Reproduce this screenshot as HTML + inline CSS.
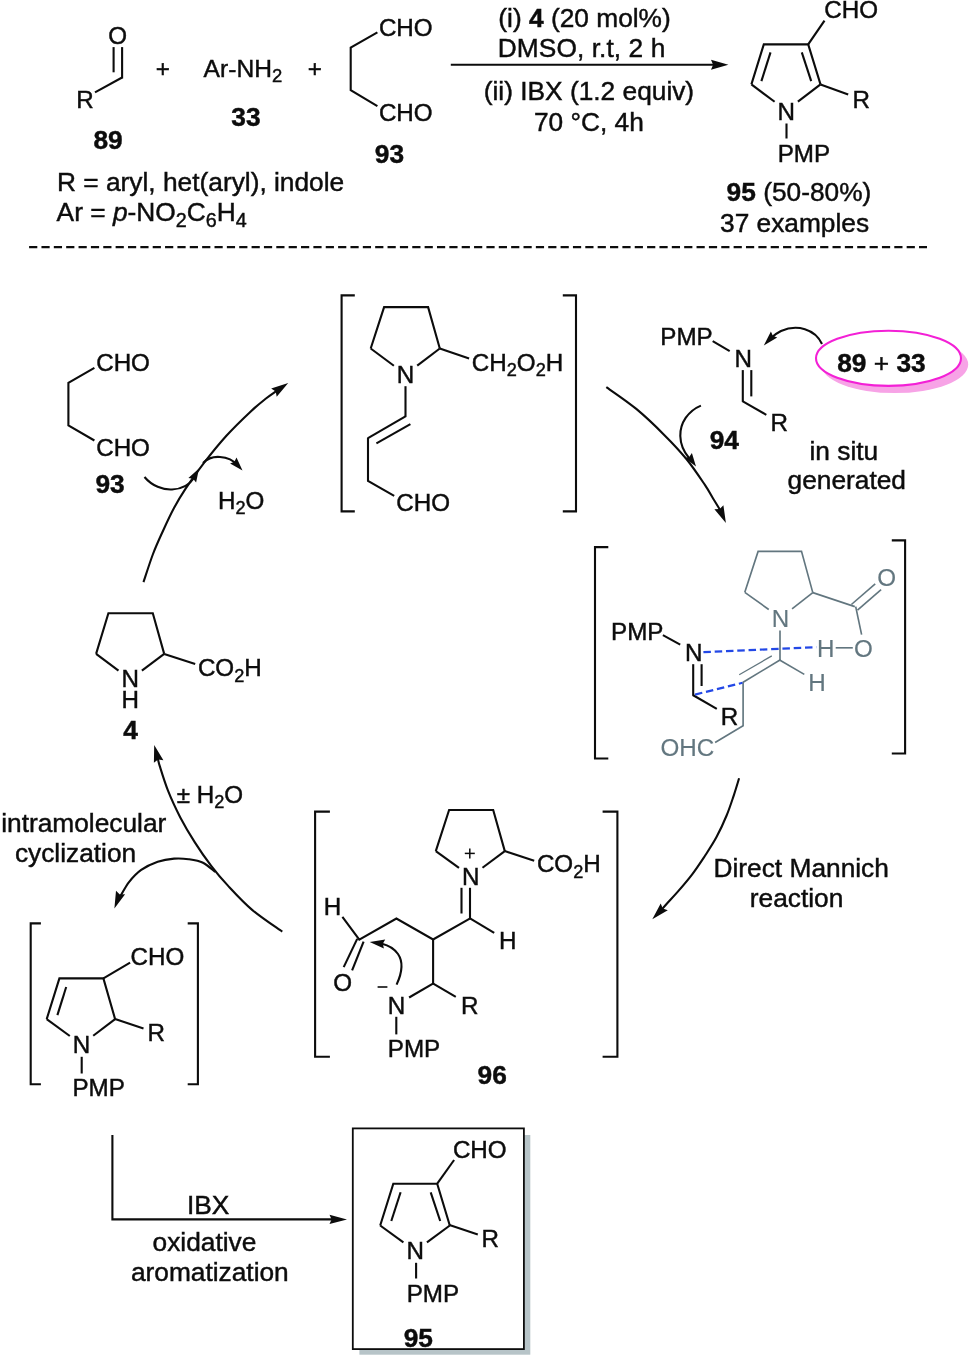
<!DOCTYPE html>
<html lang="en"><head><meta charset="utf-8"><title>Scheme</title>
<style>
html,body{margin:0;padding:0;background:#fff;}
svg{display:block;will-change:transform;filter:blur(0.4px);font-family:"Liberation Sans",sans-serif;}
text{stroke-width:0.45px;paint-order:stroke;}
</style></head><body>
<svg width="971" height="1358" viewBox="0 0 971 1358" stroke-linecap="butt">
<defs><filter id="bl" x="-10%" y="-20%" width="120%" height="140%"><feGaussianBlur stdDeviation="0.7"/></filter></defs>
<rect width="971" height="1358" fill="#ffffff"/>
<text x="76.3" y="107.90" font-size="24.2" fill="#0c0c0c" stroke="#0c0c0c" text-anchor="start" >R</text>
<line x1="95" y1="92.4" x2="122.1" y2="77.5" stroke="#0c0c0c" stroke-width="2.1" />
<line x1="122.1" y1="78.5" x2="122.1" y2="47.1" stroke="#0c0c0c" stroke-width="2.1" />
<line x1="113.6" y1="72.3" x2="113.6" y2="47.1" stroke="#0c0c0c" stroke-width="2.1" />
<text x="117.6" y="44.20" font-size="24.2" fill="#0c0c0c" stroke="#0c0c0c" text-anchor="middle" >O</text>
<text x="108.1" y="149.00" font-size="26.3" fill="#0c0c0c" stroke="#0c0c0c" text-anchor="middle" font-weight="bold" >89</text>
<text x="162.8" y="77.20" font-size="24.2" fill="#0c0c0c" stroke="#0c0c0c" text-anchor="middle" >+</text>
<text x="203.6" y="76.70" font-size="24.6" fill="#0c0c0c" stroke="#0c0c0c" text-anchor="start" >Ar-NH<tspan dy="5.41" font-size="18.45">2</tspan></text>
<text x="246" y="126.10" font-size="26.3" fill="#0c0c0c" stroke="#0c0c0c" text-anchor="middle" font-weight="bold" >33</text>
<text x="314.8" y="77.20" font-size="24.2" fill="#0c0c0c" stroke="#0c0c0c" text-anchor="middle" >+</text>
<text x="378.9" y="35.60" font-size="24.2" fill="#0c0c0c" stroke="#0c0c0c" text-anchor="start" >CHO</text>
<polyline points="377.4,32.4 350.7,47.7 350.7,90.1 377.4,106.1" fill="none" stroke="#0c0c0c" stroke-width="2.1" stroke-linejoin="miter"/>
<text x="378.9" y="120.70" font-size="24.2" fill="#0c0c0c" stroke="#0c0c0c" text-anchor="start" >CHO</text>
<text x="389.4" y="163.10" font-size="26.3" fill="#0c0c0c" stroke="#0c0c0c" text-anchor="middle" font-weight="bold" >93</text>
<text x="57" y="191.20" font-size="26.3" fill="#0c0c0c" stroke="#0c0c0c" text-anchor="start" >R = aryl, het(aryl), indole</text>
<text x="56.6" y="221.20" font-size="26.3" fill="#0c0c0c" stroke="#0c0c0c" text-anchor="start" >Ar = <tspan font-style="italic">p</tspan>-NO<tspan dy="5.79" font-size="19.73">2</tspan><tspan dy="-5.79">C</tspan><tspan dy="5.79" font-size="19.73">6</tspan><tspan dy="-5.79">H</tspan><tspan dy="5.79" font-size="19.73">4</tspan></text>
<line x1="450.8" y1="64.7" x2="716" y2="64.7" stroke="#0c0c0c" stroke-width="2.1" />
<polygon points="728.4,64.7 711.0,69.7 713.1,64.7 711.0,59.8" fill="#0c0c0c" stroke="none"/>
<text x="498.3" y="26.60" font-size="26.3" fill="#0c0c0c" stroke="#0c0c0c" text-anchor="start" >(i) <tspan font-weight="bold">4</tspan> (20 mol%)</text>
<text x="497.8" y="57.30" font-size="26.3" fill="#0c0c0c" stroke="#0c0c0c" text-anchor="start" textLength="167.5" lengthAdjust="spacing">DMSO, r.t, 2 h</text>
<text x="483.7" y="100.00" font-size="26.3" fill="#0c0c0c" stroke="#0c0c0c" text-anchor="start" >(ii) IBX (1.2 equiv)</text>
<text x="533.9" y="130.70" font-size="26.3" fill="#0c0c0c" stroke="#0c0c0c" text-anchor="start" >70 °C, 4h</text>
<polyline points="751.4,84.4 763.8,44.4 808.2,44.4 820.5,84.4" fill="none" stroke="#0c0c0c" stroke-width="2.1" stroke-linejoin="miter"/>
<line x1="751.4" y1="84.4" x2="774.6079505029965" y2="101.75608905811482" stroke="#0c0c0c" stroke-width="2.1" />
<line x1="820.5" y1="84.4" x2="797.9062881922581" y2="101.64256953748722" stroke="#0c0c0c" stroke-width="2.1" />
<line x1="770.5" y1="52.4" x2="761.4" y2="81.1" stroke="#0c0c0c" stroke-width="2.1" />
<line x1="801.8" y1="52.4" x2="811.2" y2="81.1" stroke="#0c0c0c" stroke-width="2.1" />
<line x1="808.2" y1="44.4" x2="824.5" y2="20.7" stroke="#0c0c0c" stroke-width="2.1" />
<text x="824.3" y="17.90" font-size="24.2" fill="#0c0c0c" stroke="#0c0c0c" text-anchor="start" >CHO</text>
<line x1="820.5" y1="84.4" x2="848.2" y2="94.4" stroke="#0c0c0c" stroke-width="2.1" />
<text x="852.5" y="108.00" font-size="24.2" fill="#0c0c0c" stroke="#0c0c0c" text-anchor="start" >R</text>
<text x="786.3" y="120.10" font-size="24.2" fill="#0c0c0c" stroke="#0c0c0c" text-anchor="middle" >N</text>
<line x1="786.5" y1="123.5" x2="786.5" y2="138.5" stroke="#0c0c0c" stroke-width="2.1" />
<text x="777.7" y="162.40" font-size="24.2" fill="#0c0c0c" stroke="#0c0c0c" text-anchor="start" >PMP</text>
<text x="726.6" y="200.80" font-size="26.3" fill="#0c0c0c" stroke="#0c0c0c" text-anchor="start" ><tspan font-weight="bold">95</tspan> (50-80%)</text>
<text x="720" y="231.60" font-size="26.3" fill="#0c0c0c" stroke="#0c0c0c" text-anchor="start" >37 examples</text>
<line x1="29.1" y1="247.2" x2="927" y2="247.2" stroke="#0c0c0c" stroke-width="2.2" stroke-dasharray="8.2 4.16"/>
<text x="96.2" y="370.70" font-size="24.2" fill="#0c0c0c" stroke="#0c0c0c" text-anchor="start" >CHO</text>
<polyline points="94.4,367.8 68.4,382.8 68.4,425.5 94.4,440.5" fill="none" stroke="#0c0c0c" stroke-width="2.1" stroke-linejoin="miter"/>
<text x="96.2" y="456.10" font-size="24.2" fill="#0c0c0c" stroke="#0c0c0c" text-anchor="start" >CHO</text>
<text x="110.1" y="493.30" font-size="26.3" fill="#0c0c0c" stroke="#0c0c0c" text-anchor="middle" font-weight="bold" >93</text>
<text x="218" y="508.60" font-size="24.2" fill="#0c0c0c" stroke="#0c0c0c" text-anchor="start" >H<tspan dy="5.32" font-size="18.15">2</tspan><tspan dy="-5.32">O</tspan></text>
<path d="M143.5,582.1 C145.1,577.4 149.7,562.7 153.0,554.0 C156.3,545.3 159.9,537.7 163.4,530.0 C166.9,522.3 170.3,514.9 174.0,508.0 C177.7,501.1 180.6,496.2 185.6,488.6 C190.6,481.1 197.4,471.5 204.2,462.7 C211.0,453.9 218.7,444.3 226.4,435.8 C234.1,427.3 243.9,417.9 250.5,411.7 C257.1,405.5 261.6,402.0 266.0,398.5 C270.4,395.0 275.0,392.0 276.8,390.7" fill="none" stroke="#0c0c0c" stroke-width="2.1"/>
<polygon points="288.2,383.0 276.7,396.7 275.7,391.5 271.2,388.6" fill="#0c0c0c" stroke="none"/>
<path d="M144.5,477 C152,486 163,490 172,489.5 C183,489 190,484 194,478" fill="none" stroke="#0c0c0c" stroke-width="2.1"/>
<polygon points="199.0,468.5 196.1,482.4 193.1,478.8 188.4,478.0" fill="#0c0c0c" stroke="none"/>
<path d="M203,463 C208,458 214,456.5 220,457 C228,457.5 234,461 238,465.5" fill="none" stroke="#0c0c0c" stroke-width="2.1"/>
<polygon points="242.5,470.5 230.1,463.6 234.4,461.8 236.5,457.6" fill="#0c0c0c" stroke="none"/>
<polyline points="354.8,295.4 341.6,295.4 341.6,511.4 354.8,511.4" fill="none" stroke="#0c0c0c" stroke-width="2.1" stroke-linejoin="miter"/>
<polyline points="562.8,295.4 576,295.4 576,511.4 562.8,511.4" fill="none" stroke="#0c0c0c" stroke-width="2.1" stroke-linejoin="miter"/>
<polyline points="370.7,348.5 384.1,307.1 428.1,307.1 439.8,348.5" fill="none" stroke="#0c0c0c" stroke-width="2.1" stroke-linejoin="miter"/>
<line x1="370.7" y1="348.5" x2="393.89188043364686" y2="365.7776186611695" stroke="#0c0c0c" stroke-width="2.1" />
<line x1="439.8" y1="348.5" x2="417.22265816358475" y2="365.664061045228" stroke="#0c0c0c" stroke-width="2.1" />
<text x="405.6" y="383.00" font-size="24.2" fill="#0c0c0c" stroke="#0c0c0c" text-anchor="middle" >N</text>
<line x1="439.8" y1="348.5" x2="469.1" y2="358.5" stroke="#0c0c0c" stroke-width="2.1" />
<text x="471.8" y="370.70" font-size="24.2" fill="#0c0c0c" stroke="#0c0c0c" text-anchor="start" >CH<tspan dy="5.32" font-size="18.15">2</tspan><tspan dy="-5.32">O</tspan><tspan dy="5.32" font-size="18.15">2</tspan><tspan dy="-5.32">H</tspan></text>
<line x1="405.5" y1="386.2" x2="405.5" y2="416.8" stroke="#0c0c0c" stroke-width="2.1" />
<line x1="405.9" y1="416.1" x2="368" y2="438.1" stroke="#0c0c0c" stroke-width="2.1" />
<line x1="410.4" y1="424.2" x2="376.4" y2="443.4" stroke="#0c0c0c" stroke-width="2.1" />
<polyline points="368,437.5 368,480.9 394.2,495.9" fill="none" stroke="#0c0c0c" stroke-width="2.1" stroke-linejoin="miter"/>
<text x="396.3" y="510.90" font-size="24.2" fill="#0c0c0c" stroke="#0c0c0c" text-anchor="start" >CHO</text>
<text x="660.3" y="345.40" font-size="24.2" fill="#0c0c0c" stroke="#0c0c0c" text-anchor="start" >PMP</text>
<line x1="712.7" y1="341.1" x2="729.7" y2="351.1" stroke="#0c0c0c" stroke-width="2.1" />
<text x="743.3" y="366.90" font-size="24.2" fill="#0c0c0c" stroke="#0c0c0c" text-anchor="middle" >N</text>
<line x1="742.8" y1="370.1" x2="742.8" y2="401.8" stroke="#0c0c0c" stroke-width="2.1" />
<line x1="751.3" y1="370.1" x2="751.3" y2="396.4" stroke="#0c0c0c" stroke-width="2.1" />
<line x1="742.4" y1="401.1" x2="766.3" y2="414.8" stroke="#0c0c0c" stroke-width="2.1" />
<text x="770.6" y="430.80" font-size="24.2" fill="#0c0c0c" stroke="#0c0c0c" text-anchor="start" >R</text>
<text x="724.3" y="448.50" font-size="26.3" fill="#0c0c0c" stroke="#0c0c0c" text-anchor="middle" font-weight="bold" >94</text>
<ellipse cx="894.7" cy="364.5" rx="73.5" ry="28.6" fill="#f7a3e6" stroke="none" filter="url(#bl)"/>
<ellipse cx="888.5" cy="358.3" rx="72.5" ry="27.6" fill="#ffffff" stroke="#f320d6" stroke-width="2.1"/>
<text x="881.5" y="371.70" font-size="26.3" fill="#0c0c0c" stroke="#0c0c0c" text-anchor="middle" ><tspan font-weight="bold">89</tspan> + <tspan font-weight="bold">33</tspan></text>
<path d="M822,344 C815,329 797,324 781,331 C777,333 774,335 771,338" fill="none" stroke="#0c0c0c" stroke-width="2.1"/>
<polygon points="763.8,345.5 770.9,331.6 772.8,335.8 777.2,337.5" fill="#0c0c0c" stroke="none"/>
<text x="809.5" y="460.10" font-size="26.3" fill="#0c0c0c" stroke="#0c0c0c" text-anchor="start" >in situ</text>
<text x="787.5" y="489.30" font-size="26.3" fill="#0c0c0c" stroke="#0c0c0c" text-anchor="start" >generated</text>
<path d="M606.3,387.1 C611.3,390.7 626.6,400.9 636.3,408.9 C645.9,416.9 655.9,426.5 664.2,434.9 C672.6,443.2 679.6,450.7 686.4,459.0 C693.2,467.3 700.3,478.1 704.9,484.9 C709.5,491.7 711.4,495.8 714.0,500.0 C716.6,504.2 719.3,508.6 720.3,510.3" fill="none" stroke="#0c0c0c" stroke-width="2.1"/>
<polygon points="725.9,522.9 714.4,509.2 719.7,509.1 723.4,505.2" fill="#0c0c0c" stroke="none"/>
<path d="M700.9,405.6 C688,411 680,423 680.3,436 C680.5,445 684,452 689,458" fill="none" stroke="#0c0c0c" stroke-width="2.1"/>
<polygon points="696.0,466.6 684.7,458.1 689.2,456.9 691.9,453.0" fill="#0c0c0c" stroke="none"/>
<polyline points="608.3,547.1 595,547.1 595,758.5 608.3,758.5" fill="none" stroke="#0c0c0c" stroke-width="2.1" stroke-linejoin="miter"/>
<polyline points="891.8000000000001,540.4 905.1,540.4 905.1,753.5 891.8000000000001,753.5" fill="none" stroke="#0c0c0c" stroke-width="2.1" stroke-linejoin="miter"/>
<polyline points="744.8,592.3 758.1,551.4 801.5,551.4 812.8,592.6" fill="none" stroke="#62767f" stroke-width="1.65" stroke-linejoin="miter"/>
<line x1="744.8" y1="592.3" x2="768.7396710631164" y2="609.4857415173768" stroke="#62767f" stroke-width="1.65" />
<line x1="812.8" y1="592.6" x2="792.0629324128076" y2="608.9578110780959" stroke="#62767f" stroke-width="1.65" />
<text x="780.6" y="626.80" font-size="24.2" fill="#62767f" stroke="#62767f" text-anchor="middle"  style="stroke-width:0.15px">N</text>
<line x1="812.8" y1="592.6" x2="854.8" y2="606.6" stroke="#62767f" stroke-width="1.65" />
<line x1="851.4" y1="604.5" x2="875.2" y2="583.9" stroke="#62767f" stroke-width="1.65" />
<line x1="857.5" y1="610.1" x2="881.1" y2="589.7" stroke="#62767f" stroke-width="1.65" />
<text x="886.6" y="586.20" font-size="24.2" fill="#62767f" stroke="#62767f" text-anchor="middle"  style="stroke-width:0.15px">O</text>
<line x1="855.7" y1="606.7" x2="861.6" y2="634.6" stroke="#62767f" stroke-width="1.65" />
<text x="863.5" y="656.60" font-size="24.2" fill="#62767f" stroke="#62767f" text-anchor="middle"  style="stroke-width:0.15px">O</text>
<text x="825.7" y="656.60" font-size="24.2" fill="#62767f" stroke="#62767f" text-anchor="middle"  style="stroke-width:0.15px">H</text>
<line x1="835.7" y1="647.8" x2="852.8" y2="647.8" stroke="#62767f" stroke-width="1.65" />
<line x1="780" y1="630.5" x2="780" y2="660.7" stroke="#62767f" stroke-width="1.65" />
<line x1="780.4" y1="659.7" x2="743.1" y2="682.3" stroke="#62767f" stroke-width="1.65" />
<line x1="771.8" y1="655.9" x2="739.2" y2="674.7" stroke="#62767f" stroke-width="1.3" />
<line x1="779.6" y1="660" x2="804.3" y2="674.4" stroke="#62767f" stroke-width="1.65" />
<text x="816.9" y="691.40" font-size="24.2" fill="#62767f" stroke="#62767f" text-anchor="middle"  style="stroke-width:0.15px">H</text>
<polyline points="743.1,681.8 743.1,725.8 715.1,742.5" fill="none" stroke="#62767f" stroke-width="1.65" stroke-linejoin="miter"/>
<text x="660.5" y="755.80" font-size="24.2" fill="#62767f" stroke="#62767f" text-anchor="start"  style="stroke-width:0.15px">OHC</text>
<text x="611" y="639.90" font-size="24.2" fill="#0c0c0c" stroke="#0c0c0c" text-anchor="start" >PMP</text>
<line x1="662.9" y1="635.2" x2="680.2" y2="644.6" stroke="#0c0c0c" stroke-width="2.1" />
<text x="693.7" y="661.20" font-size="24.2" fill="#0c0c0c" stroke="#0c0c0c" text-anchor="middle" >N</text>
<line x1="693.2" y1="664.2" x2="693.2" y2="695.7" stroke="#0c0c0c" stroke-width="2.1" />
<line x1="701.6" y1="664.2" x2="701.6" y2="686" stroke="#0c0c0c" stroke-width="2.1" />
<line x1="692.8" y1="695" x2="716.8" y2="708.8" stroke="#0c0c0c" stroke-width="2.1" />
<text x="720.8" y="725.20" font-size="24.2" fill="#0c0c0c" stroke="#0c0c0c" text-anchor="start" >R</text>
<line x1="703.4" y1="652.2" x2="816.5" y2="647.2" stroke="#2348e6" stroke-width="2.2" stroke-dasharray="7.5 3.8"/>
<line x1="695" y1="694.6" x2="742.5" y2="682.8" stroke="#2348e6" stroke-width="2.2" stroke-dasharray="7.5 3.8"/>
<path d="M739.1,778.3 C738.2,781.1 735.9,789.1 733.8,795.3 C731.7,801.5 729.5,808.5 726.6,815.5 C723.7,822.5 720.1,830.4 716.5,837.1 C712.9,843.8 709.1,849.5 705.0,855.8 C700.9,862.0 696.6,868.6 692.0,874.6 C687.4,880.6 681.8,887.1 677.6,891.9 C673.4,896.7 669.6,900.6 667.0,903.5 C664.4,906.4 662.7,908.4 661.9,909.4" fill="none" stroke="#0c0c0c" stroke-width="2.1"/>
<polygon points="652.3,919.3 660.7,903.5 662.8,908.4 667.8,910.3" fill="#0c0c0c" stroke="none"/>
<text x="713.5" y="876.70" font-size="26.3" fill="#0c0c0c" stroke="#0c0c0c" text-anchor="start" >Direct Mannich</text>
<text x="749.8" y="907.40" font-size="26.3" fill="#0c0c0c" stroke="#0c0c0c" text-anchor="start" >reaction</text>
<polyline points="96.1,653.9 108.4,613.2 152.8,613.2 164.2,653.9" fill="none" stroke="#0c0c0c" stroke-width="2.1" stroke-linejoin="miter"/>
<line x1="96.1" y1="653.9" x2="118.4912205698383" y2="670.5785044713751" stroke="#0c0c0c" stroke-width="2.1" />
<line x1="164.2" y1="653.9" x2="141.89649194341837" y2="670.5620324893285" stroke="#0c0c0c" stroke-width="2.1" />
<text x="130.2" y="687.40" font-size="24.2" fill="#0c0c0c" stroke="#0c0c0c" text-anchor="middle" >N</text>
<text x="130.2" y="707.80" font-size="24.2" fill="#0c0c0c" stroke="#0c0c0c" text-anchor="middle" >H</text>
<line x1="164.2" y1="653.9" x2="195.2" y2="663.9" stroke="#0c0c0c" stroke-width="2.1" />
<text x="197.9" y="676.40" font-size="24.2" fill="#0c0c0c" stroke="#0c0c0c" text-anchor="start" >CO<tspan dy="5.32" font-size="18.15">2</tspan><tspan dy="-5.32">H</tspan></text>
<text x="130.5" y="738.70" font-size="26.3" fill="#0c0c0c" stroke="#0c0c0c" text-anchor="middle" font-weight="bold" >4</text>
<path d="M282.3,931.7 C277.3,928.1 261.5,917.8 252.4,910.1 C243.3,902.4 234.6,892.8 227.7,885.4 C220.8,878.0 216.7,873.0 211.2,865.8 C205.7,858.6 199.8,850.2 194.7,842.1 C189.5,834.0 184.8,826.0 180.3,817.4 C175.9,808.8 171.4,799.2 168.0,790.6 C164.6,782.0 161.4,771.3 159.7,765.9 C158.0,760.5 158.1,759.5 157.8,758.2" fill="none" stroke="#0c0c0c" stroke-width="2.1"/>
<polygon points="154.2,744.9 163.4,760.2 158.1,759.5 153.9,762.8" fill="#0c0c0c" stroke="none"/>
<text x="176.8" y="802.70" font-size="24.2" fill="#0c0c0c" stroke="#0c0c0c" text-anchor="start" >± H<tspan dy="5.32" font-size="18.15">2</tspan><tspan dy="-5.32">O</tspan></text>
<text x="1.2" y="832.20" font-size="26.3" fill="#0c0c0c" stroke="#0c0c0c" text-anchor="start" >intramolecular</text>
<text x="14.9" y="862.20" font-size="26.3" fill="#0c0c0c" stroke="#0c0c0c" text-anchor="start" >cyclization</text>
<path d="M215.3,872.0 C213.2,870.5 207.4,864.8 203.0,862.7 C198.6,860.6 193.4,859.9 188.6,859.2 C183.8,858.5 179.2,858.2 174.1,858.6 C168.9,859.0 163.2,859.8 157.7,861.7 C152.2,863.6 146.0,866.5 141.2,869.9 C136.4,873.3 132.2,878.0 128.8,882.3 C125.4,886.6 122.2,893.5 120.6,895.7 C119.0,897.9 119.5,895.7 119.3,895.8" fill="none" stroke="#0c0c0c" stroke-width="2.1"/>
<polygon points="114.4,908.6 116.0,890.8 119.8,894.5 125.1,894.3" fill="#0c0c0c" stroke="none"/>
<polyline points="329.90000000000003,811.6 315.1,811.6 315.1,1056.8 329.90000000000003,1056.8" fill="none" stroke="#0c0c0c" stroke-width="2.1" stroke-linejoin="miter"/>
<polyline points="602.6,811.6 617.4,811.6 617.4,1056.8 602.6,1056.8" fill="none" stroke="#0c0c0c" stroke-width="2.1" stroke-linejoin="miter"/>
<polyline points="435.8,851.1 449.1,810 493.2,810 504.8,851.1" fill="none" stroke="#0c0c0c" stroke-width="2.1" stroke-linejoin="miter"/>
<line x1="435.8" y1="851.1" x2="458.9836997382524" y2="867.9247420957604" stroke="#0c0c0c" stroke-width="2.1" />
<line x1="504.8" y1="851.1" x2="482.4964919434184" y2="867.7620324893286" stroke="#0c0c0c" stroke-width="2.1" />
<text x="470.8" y="885.00" font-size="24.2" fill="#0c0c0c" stroke="#0c0c0c" text-anchor="middle" >N</text>
<line x1="464.8" y1="853.4" x2="474.8" y2="853.4" stroke="#0c0c0c" stroke-width="1.5" />
<line x1="469.8" y1="848.4" x2="469.8" y2="858.4" stroke="#0c0c0c" stroke-width="1.5" />
<line x1="504.8" y1="851.1" x2="534.2" y2="860.7" stroke="#0c0c0c" stroke-width="2.1" />
<text x="536.9" y="872.30" font-size="24.2" fill="#0c0c0c" stroke="#0c0c0c" text-anchor="start" >CO<tspan dy="5.32" font-size="18.15">2</tspan><tspan dy="-5.32">H</tspan></text>
<line x1="470" y1="887.8" x2="470" y2="919.2" stroke="#0c0c0c" stroke-width="2.1" />
<line x1="461.5" y1="887.8" x2="461.5" y2="913.5" stroke="#0c0c0c" stroke-width="2.1" />
<line x1="469.6" y1="918.2" x2="494.2" y2="932.8" stroke="#0c0c0c" stroke-width="2.1" />
<text x="507.8" y="949.10" font-size="24.2" fill="#0c0c0c" stroke="#0c0c0c" text-anchor="middle" >H</text>
<polyline points="470.2,918.3 433.1,939.5 396.4,918.5 359.3,939.7 342.4,916.8" fill="none" stroke="#0c0c0c" stroke-width="2.1" stroke-linejoin="miter"/>
<text x="332.5" y="914.90" font-size="24.2" fill="#0c0c0c" stroke="#0c0c0c" text-anchor="middle" >H</text>
<line x1="357.2" y1="938.9" x2="343.7" y2="967.1" stroke="#0c0c0c" stroke-width="2.1" />
<line x1="363.6" y1="941.7" x2="352.1" y2="970.4" stroke="#0c0c0c" stroke-width="2.1" />
<text x="342.6" y="990.80" font-size="24.2" fill="#0c0c0c" stroke="#0c0c0c" text-anchor="middle" >O</text>
<line x1="433.1" y1="939" x2="433.1" y2="984" stroke="#0c0c0c" stroke-width="2.1" />
<line x1="433.4" y1="983.3" x2="409.1" y2="997.5" stroke="#0c0c0c" stroke-width="2.1" />
<line x1="432.8" y1="983.3" x2="455.8" y2="996.9" stroke="#0c0c0c" stroke-width="2.1" />
<text x="460.9" y="1014.10" font-size="24.2" fill="#0c0c0c" stroke="#0c0c0c" text-anchor="start" >R</text>
<text x="396.4" y="1014.10" font-size="24.2" fill="#0c0c0c" stroke="#0c0c0c" text-anchor="middle" >N</text>
<line x1="377.6" y1="987" x2="387.4" y2="987" stroke="#0c0c0c" stroke-width="1.6" />
<line x1="396.3" y1="1016.8" x2="396.3" y2="1034.4" stroke="#0c0c0c" stroke-width="2.1" />
<text x="387.8" y="1056.50" font-size="24.2" fill="#0c0c0c" stroke="#0c0c0c" text-anchor="start" >PMP</text>
<path d="M396.6,984.6 C402,973 403.5,962 398,954 C394,948.5 389,945.5 382,943.8" fill="none" stroke="#0c0c0c" stroke-width="2.1"/>
<polygon points="369.7,941.9 385.2,939.4 382.8,943.7 383.9,948.5" fill="#0c0c0c" stroke="none"/>
<text x="492.2" y="1084.10" font-size="26.3" fill="#0c0c0c" stroke="#0c0c0c" text-anchor="middle" font-weight="bold" >96</text>
<polyline points="40.9,923.4 30.7,923.4 30.7,1084.2 40.9,1084.2" fill="none" stroke="#0c0c0c" stroke-width="2.1" stroke-linejoin="miter"/>
<polyline points="187.70000000000002,923.4 197.9,923.4 197.9,1084.2 187.70000000000002,1084.2" fill="none" stroke="#0c0c0c" stroke-width="2.1" stroke-linejoin="miter"/>
<polyline points="46.7,1019.1 59.4,978.4 103.4,978.4 115.1,1019.1" fill="none" stroke="#0c0c0c" stroke-width="2.1" stroke-linejoin="miter"/>
<line x1="46.7" y1="1019.1" x2="69.81147076175962" y2="1035.9866047113144" stroke="#0c0c0c" stroke-width="2.1" />
<line x1="115.1" y1="1019.1" x2="93.21728224786315" y2="1035.7569941098354" stroke="#0c0c0c" stroke-width="2.1" />
<line x1="66.2" y1="987" x2="57.4" y2="1015.1" stroke="#0c0c0c" stroke-width="2.1" />
<line x1="103.4" y1="978.4" x2="130.1" y2="962.7" stroke="#0c0c0c" stroke-width="2.1" />
<text x="130.6" y="965.00" font-size="24.2" fill="#0c0c0c" stroke="#0c0c0c" text-anchor="start" >CHO</text>
<line x1="115.1" y1="1019.1" x2="143.5" y2="1028.5" stroke="#0c0c0c" stroke-width="2.1" />
<text x="147.6" y="1041.40" font-size="24.2" fill="#0c0c0c" stroke="#0c0c0c" text-anchor="start" >R</text>
<text x="81.6" y="1053.40" font-size="24.2" fill="#0c0c0c" stroke="#0c0c0c" text-anchor="middle" >N</text>
<line x1="81.7" y1="1056.8" x2="81.7" y2="1073.5" stroke="#0c0c0c" stroke-width="2.1" />
<text x="72.4" y="1095.80" font-size="24.2" fill="#0c0c0c" stroke="#0c0c0c" text-anchor="start" >PMP</text>
<polyline points="112.4,1135 112.4,1219.4 335,1219.4" fill="none" stroke="#0c0c0c" stroke-width="2.1" stroke-linejoin="miter"/>
<polygon points="347.0,1219.4 329.5,1224.1 331.6,1219.4 329.5,1214.7" fill="#0c0c0c" stroke="none"/>
<text x="187" y="1214.40" font-size="26.3" fill="#0c0c0c" stroke="#0c0c0c" text-anchor="start" >IBX</text>
<text x="152.6" y="1251.20" font-size="26.3" fill="#0c0c0c" stroke="#0c0c0c" text-anchor="start" >oxidative</text>
<text x="130.9" y="1281.30" font-size="26.3" fill="#0c0c0c" stroke="#0c0c0c" text-anchor="start" >aromatization</text>
<rect x="359.4" y="1135" width="170.9" height="219.7" fill="#b7c4c8"/>
<rect x="352.8" y="1128.4" width="171.1" height="220.7" fill="#ffffff" stroke="#0c0c0c" stroke-width="1.8"/>
<polyline points="380.2,1225.5 393.3,1183.7 437.2,1183.7 449.8,1225.5" fill="none" stroke="#0c0c0c" stroke-width="2.1" stroke-linejoin="miter"/>
<line x1="380.2" y1="1225.5" x2="403.399747155066" y2="1242.4026729272623" stroke="#0c0c0c" stroke-width="2.1" />
<line x1="449.8" y1="1225.5" x2="426.9529613920329" y2="1242.3381353902648" stroke="#0c0c0c" stroke-width="2.1" />
<line x1="400.6" y1="1192.3" x2="391.3" y2="1221" stroke="#0c0c0c" stroke-width="2.1" />
<line x1="430.7" y1="1192.3" x2="440.2" y2="1221" stroke="#0c0c0c" stroke-width="2.1" />
<line x1="437.4" y1="1183.4" x2="454.1" y2="1160" stroke="#0c0c0c" stroke-width="2.1" />
<text x="452.9" y="1158.00" font-size="24.2" fill="#0c0c0c" stroke="#0c0c0c" text-anchor="start" >CHO</text>
<line x1="449.5" y1="1225.1" x2="477.8" y2="1234.4" stroke="#0c0c0c" stroke-width="2.1" />
<text x="481.4" y="1246.90" font-size="24.2" fill="#0c0c0c" stroke="#0c0c0c" text-anchor="start" >R</text>
<text x="415.3" y="1259.10" font-size="24.2" fill="#0c0c0c" stroke="#0c0c0c" text-anchor="middle" >N</text>
<line x1="416.1" y1="1262.8" x2="416.1" y2="1278.5" stroke="#0c0c0c" stroke-width="2.1" />
<text x="406.7" y="1301.80" font-size="24.2" fill="#0c0c0c" stroke="#0c0c0c" text-anchor="start" >PMP</text>
<text x="418.3" y="1346.50" font-size="26.3" fill="#0c0c0c" stroke="#0c0c0c" text-anchor="middle" font-weight="bold" >95</text>
</svg>
</body></html>
